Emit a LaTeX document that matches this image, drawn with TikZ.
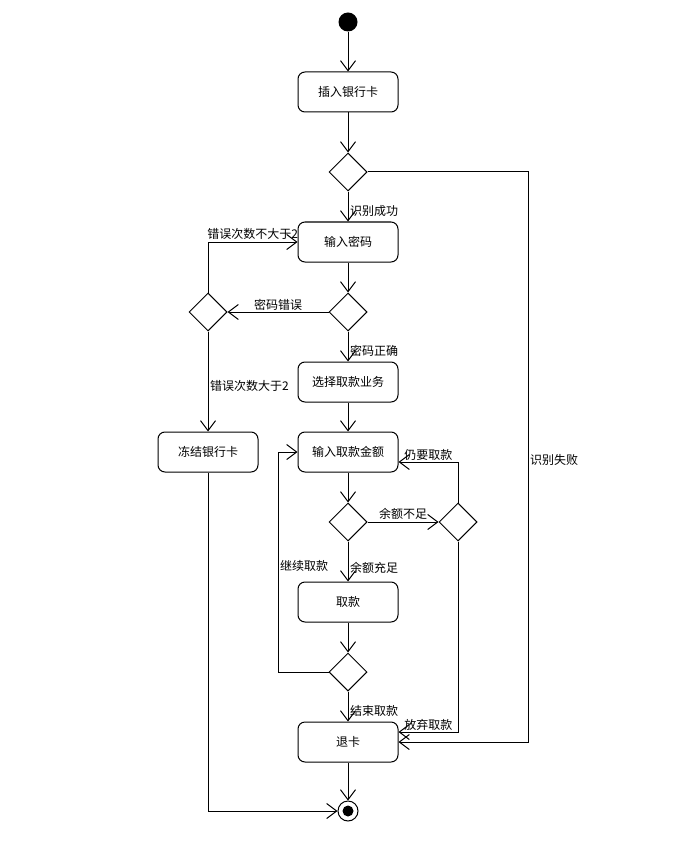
\documentclass[tikz,border=0pt]{standalone}
\usepackage{fontspec}
\newfontfamily\cjk{Noto Sans CJK SC}
\usetikzlibrary{arrows.meta,shapes.geometric}

\begin{document}
\begin{tikzpicture}
			[x=1pt,y=-1pt,line width=1pt,font=\cjk\fontsize{12}{14}\selectfont,
			act/.style={draw,rounded corners=7pt,minimum width=100pt,minimum height=40pt,inner sep=0pt},
			choice/.style={draw,diamond,minimum width=38pt,minimum height=38pt,inner sep=0pt},
			lbl/.style={inner sep=1.5pt},
			edge/.style={-{Straight Barb[length=10pt,width=15pt]}}]
			\useasboundingbox (0,0) rectangle (693,850);
			\node[circle,fill,minimum size=19pt,inner sep=0pt] (start) at (348,22) {};
			\node[act] (insert) at (348,92) {插入银行卡};
			\node[choice] (d1) at (348,172) {};
			\node[act] (pwd) at (348,242) {输入密码};
			\node[choice] (d2) at (348,312) {};
			\node[choice] (d3) at (208,312) {};
			\node[act] (select) at (348,382) {选择取款业务};
			\node[act] (freeze) at (208,452) {冻结银行卡};
			\node[act] (amount) at (348,452) {输入取款金额};
			\node[choice] (d4) at (348,522) {};
			\node[choice] (d5) at (458,522) {};
			\node[act] (take) at (348,602) {取款};
			\node[choice] (d6) at (348,672) {};
			\node[act] (eject) at (348,742) {退卡};
			\node[circle,draw,minimum size=20pt,inner sep=0pt] (end) at (348,811) {};
			\fill (end.center) circle (5.5pt);
			\coordinate (fail) at (528,172);
			\coordinate (loop) at (278,672);
			
			\foreach \from/\to in {start/insert,insert/d1,pwd/d2,select/amount,amount/d4,take/d6,eject/end}
			\draw[edge] (\from) to (\to);
			
			\foreach \from/\to/\txt in {d1/pwd/识别成功,d2/select/密码正确,d4/take/余额充足,d6/eject/结束取款}
			\draw[edge] (\from) -- node[lbl,right,pos=0.65] {\txt} (\to);

			\draw[edge] (d3) -- node[lbl,right,pos=0.54] {错误次数大于2} (freeze);
			\draw[edge] (d2) -- node[lbl,above] {密码错误} (d3);
			\draw[edge] (d4) -- node[lbl,above] {余额不足} (d5);
			\draw[edge] (d3) |- node[lbl,above,pos=0.75] {错误次数不大于2} (pwd);
			\draw[edge] (d5) |- node[lbl,above,pos=0.75] {仍要取款} ([yshift=-10pt]amount.east);
			\draw[edge] (d5) |- node[lbl,above,pos=0.75] {放弃取款} ([yshift=10pt]eject.east);
			\draw[edge] (d6) -- (loop) |- node[lbl,right,pos=0.24] {继续取款} (amount);
			\draw[edge] (d1) -- (fail) |- node[lbl,right,pos=0.253] {识别失败} (eject);
			\draw[edge] (freeze) |- (end);

			\end{tikzpicture}
\end{document}
